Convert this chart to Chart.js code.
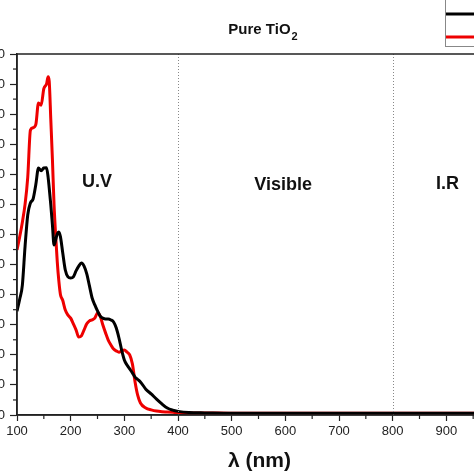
<!DOCTYPE html>
<html>
<head>
<meta charset="utf-8">
<script src="https://cdn.jsdelivr.net/npm/chart.js@4.4.1/dist/chart.umd.min.js"></script>
<style>
html,body{margin:0;padding:0;background:#fff;overflow:hidden;width:474px;height:474px;}
#wrap{position:absolute;left:-40px;top:0;width:560px;height:474px;}
canvas{display:block;}
</style>
</head>
<body>
<div id="wrap"><canvas id="c" width="560" height="474"></canvas></div>
<script>
// ---- data ----
const wavelengths = [100,105,110,115,120,125,130,135,140,145,150,155,158,160,163,166,169,172,175,178,181,185,190,195,200,205,210,215,220,225,230,235,240,245,250,255,260,265,270,275,280,285,290,295,300,305,310,315,320,325,330,340,350,360,370,380,390,400,420,450,500,600,700,800,900,1000];
const blackSeries = [345,385,432,560,665,705,718,765,821,812,821,822,790,755,698,632,565,582,602,608,592,542,482,459,455,459,479,495,505,495,469,429,389,366,346,329,322,319,319,316,309,289,256,216,183,166,153,140,126,118,110,86,70,53,37,23,16,12,8,7,6,6,6,6,6,6];
const redSeries = [549,592,641,700,790,947,955,965,1037,1030,1085,1100,1124,1110,981,850,700,598,510,445,400,382,349,332,322,303,283,259,263,283,303,313,316,322,339,329,299,273,249,233,219,213,209,213,216,209,200,170,110,65,40,23,17,13,11,10,9,8,7,7,6,6,6,6,6,6];
const seriesNames = ['xx', 'zz'];
const xTicks = {min:100, max:1000, step:100};
const yTicks = {min:0, max:1200, step:100};
const regionLabels = [
  {text:'U.V', x:249, y:775},
  {text:'Visible', x:596, y:765},
  {text:'I.R', x:902, y:768}
];
const dividers = [400, 800];

function pts(ys){ return wavelengths.map((w,i)=>({x:w, y:ys[i]})); }

const decor = {
  id:'decor',
  afterDraw(chart){
    const ctx = chart.ctx, a = chart.chartArea;
    const xs = chart.scales.x, ys = chart.scales.y;
    ctx.save();
    // dotted dividers
    ctx.strokeStyle = '#888'; ctx.lineWidth = 1; ctx.setLineDash([1,2]);
    dividers.forEach(v=>{
      const px = Math.round(xs.getPixelForValue(v))+0.5;
      ctx.beginPath(); ctx.moveTo(px,a.top); ctx.lineTo(px,a.bottom); ctx.stroke();
    });
    ctx.setLineDash([]);
    // frame
    ctx.strokeStyle = '#222'; ctx.lineWidth = 1.5;
    ctx.strokeRect(a.left, a.top, a.right-a.left, a.bottom-a.top);
    // minor ticks
    ctx.lineWidth = 1.2;
    for(let v=xTicks.min+xTicks.step/2; v<xTicks.max; v+=xTicks.step){
      const px = xs.getPixelForValue(v);
      ctx.beginPath(); ctx.moveTo(px,a.bottom); ctx.lineTo(px,a.bottom+4); ctx.stroke();
    }
    for(let v=yTicks.min+yTicks.step/2; v<yTicks.max; v+=yTicks.step){
      const py = ys.getPixelForValue(v);
      ctx.beginPath(); ctx.moveTo(a.left-4,py); ctx.lineTo(a.left,py); ctx.stroke();
    }
    // region labels
    ctx.fillStyle = '#111';
    ctx.font = 'bold 18px "Liberation Sans", Arial, sans-serif';
    ctx.textAlign = 'center'; ctx.textBaseline = 'middle';
    regionLabels.forEach(r=>{
      ctx.fillText(r.text, xs.getPixelForValue(r.x), ys.getPixelForValue(r.y));
    });
    // title Pure TiO2
    const t1 = 'Pure TiO', t2 = '2';
    ctx.font = 'bold 15px "Liberation Sans", Arial, sans-serif';
    const w1 = ctx.measureText(t1).width;
    ctx.font = 'bold 11px "Liberation Sans", Arial, sans-serif';
    const w2 = ctx.measureText(t2).width;
    const cx = (a.left+a.right)/2 + 4;
    const sx = cx - (w1+w2)/2;
    ctx.textAlign = 'left'; ctx.textBaseline = 'alphabetic';
    ctx.font = 'bold 15px "Liberation Sans", Arial, sans-serif';
    ctx.fillText(t1, sx, 34);
    ctx.font = 'bold 11px "Liberation Sans", Arial, sans-serif';
    ctx.fillText(t2, sx+w1+1, 40);
    // x axis title
    ctx.font = 'bold 21px "Liberation Sans", Arial, sans-serif';
    ctx.textAlign = 'center'; ctx.textBaseline = 'middle';
    ctx.fillText('\u03BB (nm)', (a.left+a.right)/2 + 1, 461);
    // legend
    const lx = 485, ly = -1;
    ctx.strokeStyle = '#888'; ctx.lineWidth = 1;
    ctx.strokeRect(lx+0.5, ly+0.5, 120, 47);
    chart.data.datasets.forEach((ds,i)=>{
      const yy = 14 + i*23;
      ctx.strokeStyle = ds.borderColor; ctx.lineWidth = 3;
      ctx.beginPath(); ctx.moveTo(lx+1, yy); ctx.lineTo(lx+45, yy); ctx.stroke();
      ctx.fillStyle = '#111'; ctx.font = '13px "Liberation Sans", Arial, sans-serif';
      ctx.textAlign = 'left';
      ctx.fillText(ds.label, lx+52, yy);
    });
    ctx.restore();
  }
};

new Chart(document.getElementById('c'), {
  type:'line',
  data:{
    datasets:[
      {label:seriesNames[0], data:pts(blackSeries), borderColor:'#000000', borderWidth:3, pointRadius:0, cubicInterpolationMode:'monotone', fill:false},
      {label:seriesNames[1], data:pts(redSeries), borderColor:'#ee0000', borderWidth:3, pointRadius:0, cubicInterpolationMode:'monotone', fill:false}
    ]
  },
  options:{
    responsive:false, animation:false, devicePixelRatio:1,
    layout:{padding:{top:54, right:20, left:0, bottom:0}},
    plugins:{legend:{display:false}, tooltip:{enabled:false}},
    scales:{
      x:{type:'linear', min:xTicks.min, max:xTicks.max,
         ticks:{stepSize:xTicks.step, color:'#222', padding:3, font:{size:13, family:'"Liberation Sans", Arial, sans-serif'}, maxRotation:0},
         grid:{drawOnChartArea:false, drawTicks:true, tickLength:6, color:'#222', tickWidth:1.2},
         border:{color:'#222', width:1.5},
         afterFit(s){ s.height = 59; }},
      y:{type:'linear', min:yTicks.min, max:yTicks.max,
         ticks:{stepSize:yTicks.step, color:'#222', padding:5, font:{size:13, family:'"Liberation Sans", Arial, sans-serif'}},
         grid:{drawOnChartArea:false, drawTicks:true, tickLength:7, color:'#222', tickWidth:1.2},
         border:{color:'#222', width:1.5},
         afterFit(s){ s.width = 57; }}
    }
  },
  plugins:[decor]
});
</script>
</body>
</html>
